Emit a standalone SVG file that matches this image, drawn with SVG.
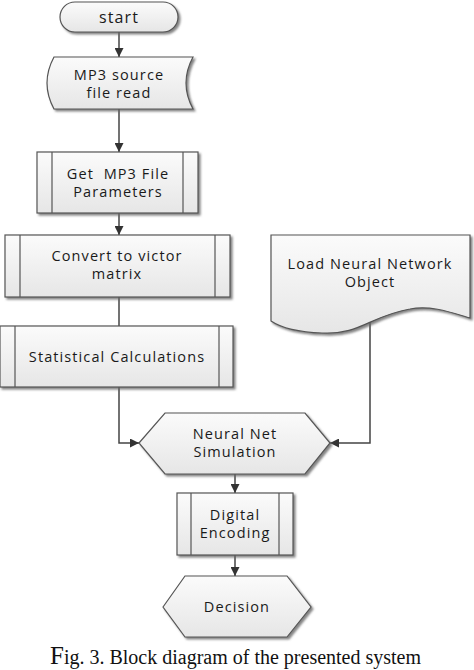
<svg xmlns="http://www.w3.org/2000/svg" width="474" height="670" viewBox="0 0 474 670">
<defs>
<linearGradient id="g" x1="0" y1="0" x2="0" y2="1">
<stop offset="0" stop-color="#fbfbfb"/>
<stop offset="1" stop-color="#e6e6e6"/>
</linearGradient>
<filter id="sh" x="-10%" y="-10%" width="130%" height="140%">
<feDropShadow dx="2" dy="2" stdDeviation="1" flood-color="#666" flood-opacity="0.8"/>
</filter>
<marker id="ah" viewBox="0 0 10 10" refX="10" refY="5" markerWidth="9" markerHeight="9" markerUnits="userSpaceOnUse" orient="auto">
<path d="M0,0 L10,5 L0,10 z" fill="#333"/>
</marker>
<style>
.s{fill:url(#g);stroke:#555;stroke-width:1.2;filter:url(#sh)}
.i{stroke:#555;stroke-width:1.2;fill:none}
.t{font-family:"Open Sans","Noto Sans",sans-serif;font-size:14.5px;letter-spacing:1.1px;fill:#1a1a1a;text-anchor:middle}
.c{stroke:#444;stroke-width:1.5;fill:none}
.ca{font-family:"Liberation Serif","Times New Roman",serif;fill:#111}
</style>
</defs>
<rect width="474" height="670" fill="#fff"/>
<g id="connectors">
<line class="c" x1="119" y1="32" x2="119" y2="57" marker-end="url(#ah)"/>
<line class="c" x1="119" y1="109" x2="119" y2="152" marker-end="url(#ah)"/>
<line class="c" x1="119" y1="213" x2="119" y2="235" marker-end="url(#ah)"/>
<line class="c" x1="119" y1="297" x2="119" y2="326"/>
<polyline class="c" points="119,387 119,443 139,443" marker-end="url(#ah)"/>
<polyline class="c" points="370,322 370,443 330,443" marker-end="url(#ah)"/>
<line class="c" x1="235" y1="474" x2="235" y2="493" marker-end="url(#ah)"/>
<line class="c" x1="235" y1="555" x2="235" y2="576" marker-end="url(#ah)"/>
</g>
<g id="start">
<rect class="s" x="60" y="2" width="118" height="30" rx="15" ry="15"/>
<text class="t" x="119" y="23" style="font-size:16px">start</text>
</g>
<g id="mp3read">
<path class="s" d="M54,57 L193,57 Q179,83 193,109 L54,109 Q40,83 54,57 Z"/>
<text class="t" x="119" y="80">MP3 source</text>
<text class="t" x="119" y="98">file read</text>
</g>
<g id="getparams">
<rect class="s" x="37" y="152" width="161" height="61"/>
<line class="i" x1="52" y1="152" x2="52" y2="213"/>
<line class="i" x1="183" y1="152" x2="183" y2="213"/>
<text class="t" x="118" y="179" style="white-space:pre">Get  MP3 File</text>
<text class="t" x="118" y="197">Parameters</text>
</g>
<g id="convert">
<rect class="s" x="5" y="235" width="225" height="62"/>
<line class="i" x1="20" y1="235" x2="20" y2="297"/>
<line class="i" x1="215" y1="235" x2="215" y2="297"/>
<text class="t" x="117" y="261">Convert to victor</text>
<text class="t" x="117" y="279">matrix</text>
</g>
<g id="stats">
<rect class="s" x="0" y="326" width="233" height="61"/>
<line class="i" x1="15" y1="326" x2="15" y2="387"/>
<line class="i" x1="219" y1="326" x2="219" y2="387"/>
<text class="t" x="117" y="362">Statistical Calculations</text>
</g>
<g id="loadnn">
<path class="s" d="M271,235 L470,235 L470,318 C450,312 430,305 410,309 C370,316 360,335 322,333 C295,332 280,327 271,321 Z"/>
<text class="t" x="370" y="269">Load Neural Network</text>
<text class="t" x="370" y="287">Object</text>
</g>
<g id="nnsim">
<path class="s" d="M139,443 L165,413 L305,413 L330,443 L305,474 L165,474 Z"/>
<text class="t" x="235" y="439">Neural Net</text>
<text class="t" x="235" y="457">Simulation</text>
</g>
<g id="digital">
<rect class="s" x="177" y="493" width="116" height="62"/>
<line class="i" x1="191" y1="493" x2="191" y2="555"/>
<line class="i" x1="279" y1="493" x2="279" y2="555"/>
<text class="t" x="235" y="520">Digital</text>
<text class="t" x="235" y="538">Encoding</text>
</g>
<g id="decision">
<path class="s" d="M163,607 L185,576 L287,576 L311,607 L287,637 L185,637 Z"/>
<text class="t" x="237" y="612">Decision</text>
</g>
<text class="ca" x="50" y="664"><tspan style="font-size:25px">F</tspan><tspan style="font-size:20px">ig. 3. Block diagram of the presented system</tspan></text>
</svg>
